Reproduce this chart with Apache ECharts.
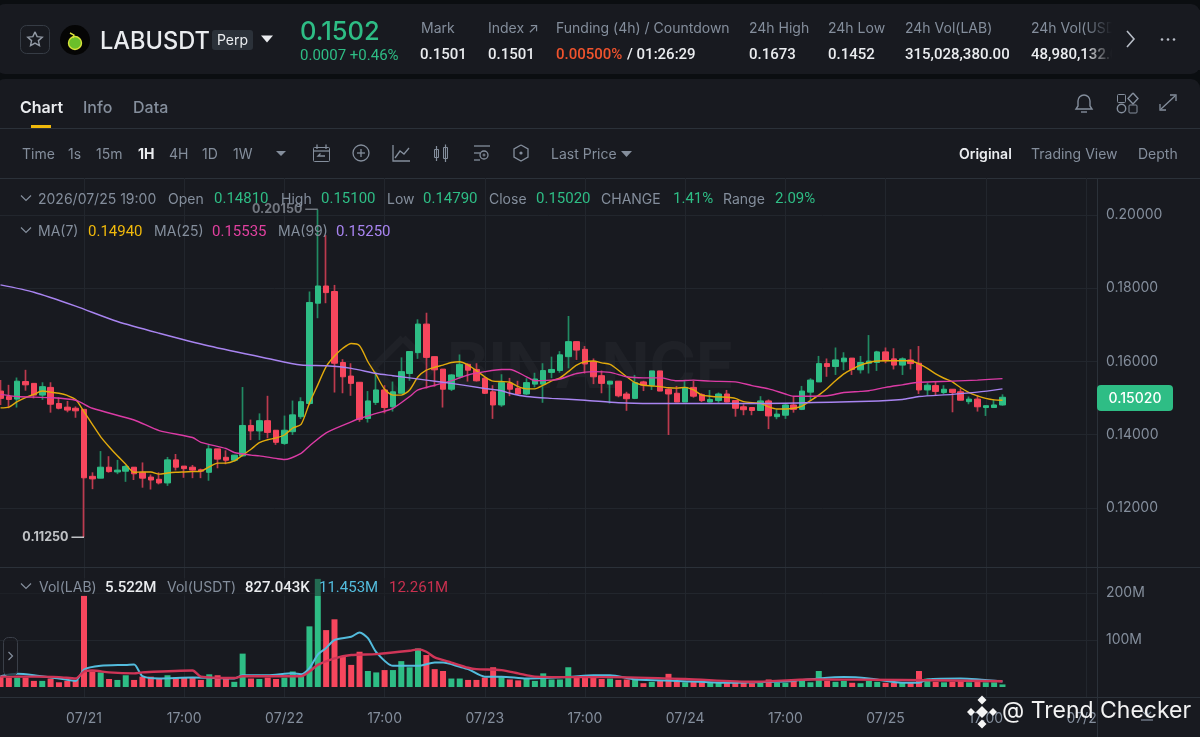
<!DOCTYPE html>
<html><head><meta charset="utf-8">
<style>html,body{margin:0;padding:0;background:#0b0e11;overflow:hidden}#c{width:1200px;height:737px}</style>
<script src="https://cdn.jsdelivr.net/npm/echarts@6/dist/echarts.min.js"></script>
</head><body><div id="c"></div>
<script>
const opens=[.1519,.1504,.1497,.1545,.1540,.1508,.1529,.1485,.1475,.1472,
.1469,.1286,.1281,.1311,.1298,.1300,.1311,.1297,.1284,.1278,
.1268,.1331,.1314,.1311,.1304,.1297,.1361,.1338,.1330,.1342,
.1425,.1410,.1438,.1412,.1376,.1408,.1449,.1485,.1759,.1806,
.1791,.1597,.1560,.1543,.1444,.1488,.1522,.1476,.1513,.1567,
.1624,.1702,.1613,.1579,.1524,.1558,.1592,.1578,.1554,.1517,
.1481,.1540,.1526,.1511,.1538,.1538,.1570,.1575,.1613,.1654,
.1633,.1599,.1561,.1538,.1546,.1511,.1499,.1544,.1534,.1574,
.1524,.1513,.1489,.1529,.1509,.1489,.1493,.1511,.1493,.1476,
.1474,.1466,.1492,.1449,.1453,.1481,.1469,.1516,.1544,.1594,
.1586,.1599,.1609,.1577,.1595,.1597,.1626,.1607,.1590,.1604,
.1595,.1522,.1534,.1515,.1524,.1517,.1490,.1497,.1474,.1474,.1481];
const closes=[.1499,.1496,.1546,.1536,.1508,.1531,.1483,.1472,.1467,.1465,
.1282,.1279,.1311,.1299,.1303,.1313,.1293,.1281,.1276,.1268,
.1331,.1311,.1307,.1303,.1300,.1361,.1333,.1330,.1344,.1425,
.1410,.1438,.1406,.1379,.1412,.1454,.1490,.1761,.1806,.1788,
.1595,.1558,.1540,.1442,.1492,.1522,.1474,.1517,.1572,.1627,
.1702,.1611,.1577,.1524,.1563,.1592,.1576,.1547,.1513,.1481,
.1542,.1524,.1511,.1542,.1552,.1575,.1578,.1618,.1654,.1631,
.1593,.1558,.1540,.1546,.1506,.1498,.1542,.1535,.1574,.1519,
.1511,.1489,.1529,.1505,.1493,.1496,.1511,.1489,.1472,.1468,
.1466,.1492,.1451,.1456,.1481,.1469,.1519,.1549,.1594,.1586,
.1604,.1609,.1578,.1597,.1601,.1626,.1602,.1590,.1607,.1594,
.1522,.1535,.1518,.1524,.1515,.1494,.1497,.1476,.1479,.1481,.1502];
const lows=[.1481,.1472,.1474,.1520,.1499,.1495,.1460,.1469,.1461,.1446,
.1120,.1251,.1281,.1296,.1292,.1271,.1276,.1255,.1250,.1264,
.1260,.1302,.1282,.1281,.1281,.1274,.1308,.1319,.1326,.1340,
.1385,.1385,.1390,.1372,.1372,.1399,.1443,.1481,.1718,.1759,
.1515,.1513,.1506,.1435,.1433,.1481,.1458,.1463,.1513,.1547,
.1607,.1526,.1531,.1474,.1519,.1553,.1545,.1545,.1511,.1443,
.1476,.1505,.1508,.1508,.1529,.1487,.1554,.1569,.1581,.1604,
.1567,.1538,.1513,.1485,.1502,.1465,.1497,.1519,.1522,.1519,
.1399,.1489,.1489,.1501,.1489,.1488,.1487,.1488,.1449,.1453,
.1453,.1465,.1415,.1442,.1443,.1460,.1467,.1494,.1544,.1558,
.1563,.1576,.1563,.1567,.1567,.1574,.1595,.1578,.1563,.1578,
.1511,.1506,.1508,.1511,.1461,.1494,.1483,.1463,.1451,.1474,.1479];
const highs=[.1549,.1536,.1556,.1577,.1540,.1543,.1543,.1502,.1492,.1477,
.1469,.1297,.1355,.1341,.1331,.1317,.1311,.1324,.1291,.1297,
.1339,.1347,.1314,.1317,.1307,.1372,.1361,.1357,.1344,.1530,
.1441,.1458,.1506,.1412,.1452,.1493,.1502,.1791,.2015,.1945,
.1809,.1606,.1595,.1543,.1519,.1572,.1535,.1545,.1611,.1627,
.1715,.1733,.1613,.1579,.1565,.1619,.1595,.1595,.1558,.1535,
.1565,.1555,.1547,.1554,.1569,.1595,.1613,.1628,.1724,.1654,
.1642,.1608,.1575,.1547,.1546,.1517,.1563,.1547,.1574,.1574,
.1526,.1533,.1546,.1547,.1513,.1522,.1515,.1522,.1493,.1483,
.1474,.1505,.1496,.1470,.1484,.1505,.1533,.1554,.1615,.1608,
.1638,.1625,.1609,.1615,.1672,.1629,.1638,.1636,.1611,.1633,
.1642,.1542,.1545,.1535,.1524,.1526,.1504,.1508,.1479,.1496,.1510];
const volumes=[22,20,20,20,13,13,18,10,13,15,
194,33,31,17,15,25,15,22,22,17,
25,20,20,20,15,27,25,18,11,71,
18,17,20,17,20,33,23,129,230,121,
144,64,47,75,34,31,36,36,55,42,
82,68,38,34,18,18,15,15,20,42,
21,16,14,18,13,29,16,16,42,21,
20,21,17,18,15,16,18,8,11,13,
28,13,10,11,10,10,10,10,13,9,
8,9,16,9,9,15,17,10,34,13,
11,13,9,8,13,11,9,9,9,9,
34,18,11,10,11,13,10,13,10,10,5.5];
const ma7=[.1473,.1475,.1490,.1501,.1510,.1519,.1516,.1513,.1507,.1496,
.1463,.1428,.1394,.1367,.1342,.1319,.1297,.1298,.1298,.1292,
.1295,.1297,.1298,.1299,.1300,.1312,.1322,.1322,.1328,.1344,
.1360,.1378,.1386,.1391,.1399,.1418,.1428,.1486,.1536,.1586,
.1615,.1636,.1649,.1643,.1599,.1563,.1524,.1508,.1508,.1522,
.1558,.1576,.1584,.1590,.1597,.1599,.1590,.1575,.1558,.1546,
.1545,.1543,.1531,.1525,.1525,.1535,.1547,.1555,.1572,.1590,
.1599,.1601,.1596,.1592,.1576,.1558,.1542,.1535,.1533,.1531,
.1528,.1527,.1529,.1522,.1508,.1505,.1503,.1502,.1499,.1490,
.1487,.1486,.1476,.1470,.1470,.1472,.1478,.1493,.1508,.1526,
.1547,.1566,.1579,.1590,.1597,.1601,.1602,.1602,.1602,.1602,
.1593,.1581,.1566,.1554,.1544,.1528,.1515,.1506,.1499,.1495,.1494];
const ma25Idx=[0,2,6,9,11,16,19,23,24,27,28,30,31,33,34,36,37,39,42,43,45,47,49,50,52,54,56,58,60,61,63,64,66,67,69,71,73,75,77,79,81,83,85,88,90,92,94,95,97,99,101,103,104,106,108,110,114,117,120];
const ma25Val=[.1510,.1504,.1501,.1494,.1472,.1440,.1411,.1392,.1379,.1362,.1351,.1344,.1342,.1335,.1332,.1349,.1369,.1405,.1435,.1444,.1458,.1472,.1504,.1522,.1535,.1547,.1563,.1572,.1578,.1578,.1558,.1547,.1549,.1552,.1567,.1572,.1570,.1558,.1555,.1555,.1547,.1549,.1546,.1544,.1534,.1525,.1511,.1505,.1505,.1506,.1515,.1518,.1520,.1529,.1536,.1543,.1546,.1549,.1553];
const ma99Idx=[0,4,9,14,19,25,32,36,39,42,45,47,51,54,58,60,61,63,66,70,74,78,84,90,104,108,110,114,117,120];
const ma99Val=[.1809,.1789,.1751,.1709,.1677,.1642,.1608,.1590,.1588,.1581,.1567,.1561,.1549,.1540,.1526,.1520,.1513,.1504,.1499,.1494,.1487,.1485,.1485,.1485,.1491,.1496,.1504,.1510,.1516,.1525];
const volBlueIdx=[0,2,4,7,9,10,12,15,16,17,19,23,28,29,32,35,36,37,38,39,40,42,43,44,45,47,50,52,53,55,56,58,60,63,68,71,73,76,81,87,92,95,98,101,104,108,110,111,115,120];
const volBlueVal=[23,28,25,18,13,37,45,47,48,23,18,20,18,25,25,29,27,40,69,83,100,107,116,104,74,45,45,52,52,43,38,22,22,18,21,25,25,16,13,9,11,13,18,21,18,9,9,16,18,11.5];
const volRedIdx=[0,4,7,9,10,11,13,16,17,23,24,28,29,36,37,38,40,42,45,49,50,51,52,54,56,57,60,62,64,68,73,82,90,97,108,120];
const volRedVal=[22,22,21,18,33,35,31,29,31,35,22,19,23,23,33,47,61,68,70,77,80,75,63,52,41,38,36,29,22,21,21,17,11,16,15,12.3];
const extremeIdx=[38,10];
const extremeVal=[0.2015,0.1120];
const tickIdx=[10,22,34,46,58,70,82,94,106,118,130];
const tickLabels=['07/21','17:00','07/22','17:00','07/23','17:00','07/24','17:00','07/25','17:00','07/26'];
const priceTicks=[0.12,0.14,0.16,0.18,0.20];
const volTicks=[100,200];

const GREEN='#2EBD85',RED='#F6465D',GREEN_WICK='#218A63',RED_WICK='#BC3A4E',GRID='#22262D',LINE='#2B3139',GREY='#848E9C',WHITE='#EAECEF';
const FONT='Inter, Roboto, sans-serif',NUM='Roboto, sans-serif';
const zip=(a,b)=>a.map((v,i)=>[v,b[i]]);
const idx=opens.map((_,i)=>i);

const g=[];
function R(x,y,w,h,fill,r,z,stroke){g.push({type:'rect',silent:true,z:z==null?-10:z,shape:{x,y,width:w,height:h,r:r||0},style:{fill:fill||'none',stroke:stroke||null,lineWidth:1}});}
function T(x,y,text,color,size,weight,z,align){g.push({type:'text',silent:true,z:z==null?60:z,x,y:y+1,style:{text,fill:color,font:(weight||400)+' '+(size||14)+'px '+FONT,verticalAlign:'middle',align:align||'left'}});}
function N(x,y,text,color,weight){g.push({type:'text',silent:true,z:60,x,y:y+1,style:{text,fill:color,font:(weight||400)+' 15px '+NUM,verticalAlign:'middle',align:'left'}});}
function L(pts,color,w,z,fill){g.push({type:fill?'polygon':'polyline',silent:true,z:z==null?60:z,shape:{points:pts},style:fill?{fill:color}:{fill:null,stroke:color,lineWidth:w||1.5}});}
function C(cx,cy,r,stroke,w,fill,z){g.push({type:'circle',silent:true,z:z==null?60:z,shape:{cx,cy,r},style:{fill:fill||null,stroke:stroke||null,lineWidth:w||1.5}});}

// panels
R(0,0,1200,737,'#0B0E11',0,-20);
R(-4,4,1204,70,'#181A20',9,-10);
R(-4,79,1204,670,'#181A20',9,-10);
R(0,128,1200,1,LINE,0,-5);R(0,178,1200,1,LINE,0,-5);R(0,567,1200,1,LINE,0,20);R(0,697,1200,1,LINE,0,20);
R(1097,178,1,559,LINE,0,20);

// header
R(20.5,25.5,29,28,null,6,60,'#363C45');
(function(){const p=[];for(let i=0;i<10;i++){const a=-Math.PI/2+i*Math.PI/5,r=i%2?3.6:7.6;p.push([35+r*Math.cos(a),39.5+r*Math.sin(a)]);}L(p.concat([p[0]]),'#929AA5',1.4);})();
C(75,40,15,null,1,'#050505');
C(75,43,6.5,'#D8E23A',1.4,'#6BBF2A');L([[70,33],[74,35],[73,38]],'#D8E23A',1.4);
T(100,41,'LABUSDT',WHITE,23.6,500);
R(212,30,41,20,'#2B3139',3,50);T(217,39.5,'Perp',WHITE,14,400);
L([[261,35.5],[273,35.5],[267,42.5]],WHITE,1,60,true);
T(300,31.5,'0.1502',GREEN,25.5,500);N(300,55.5,'0.0007 +0.46%',GREEN);
const hdr=[[421,'Mark',420,'0.1501'],[488,'Index ↗',488,'0.1501'],[749,'24h High',749,'0.1673'],[828,'24h Low',828,'0.1452'],[905,'24h Vol(LAB)',905,'315,028,380.00'],[1031,'24h Vol(USDT)',1031,'48,980,132.00']];
hdr.forEach(h=>{T(h[0],28,h[1],GREY,14);N(h[2],54.5,h[3],WHITE,500);});
T(556,28,'Funding (4h) / Countdown',GREY,14);N(556,54.5,'0.00500%','#F0532D',500);N(627,54.5,'/ 01:26:29',WHITE,500);
g.push({type:'rect',silent:true,z:70,shape:{x:1085,y:10,width:30,height:60},style:{fill:new echarts.graphic.LinearGradient(0,0,1,0,[{offset:0,color:'rgba(24,26,32,0)'},{offset:.9,color:'#181A20'}])}});
R(1115,10,85,60,'#181A20',0,70);
L([[1127,31],[1134,39],[1127,47]],'#B7BDC6',1.6,75);
[1162,1168,1174].forEach(x=>C(x,39.5,1.3,null,1,'#B7BDC6',75));

// tabs
T(20,107,'Chart',WHITE,16,600);T(83,107,'Info',GREY,16,500);T(133,107,'Data',GREY,16,500);
R(31,125,20,3,'#F0B90B',0,10);
g.push({type:'arc',silent:true,z:60,shape:{cx:1084,cy:101,r:6,startAngle:Math.PI,endAngle:0,clockwise:true},style:{fill:null,stroke:GREY,lineWidth:1.4}});
L([[1078,101],[1078,106],[1076,109],[1092,109],[1090,106],[1090,101]],GREY,1.4);L([[1081,112],[1087,112]],GREY,1.4);
R(1117.5,94.5,8,8,null,1,60,GREY);L([[1133,93],[1138,98.5],[1133,104],[1128,98.5],[1133,93]],GREY,1.4);
C(1121.5,108.5,4.2,GREY,1.4);R(1129,105,8,8,null,1,60,GREY);
L([[1161,109],[1175,96]],GREY,1.3);L([[1170,95],[1176,95],[1176,101]],GREY,1.3);L([[1160,104],[1160,110],[1166,110]],GREY,1.3);

// toolbar
[[22,'Time'],[68,'1s'],[96,'15m'],[169,'4H'],[202,'1D'],[233,'1W'],[551,'Last Price'],[1031,'Trading View'],[1138,'Depth']].forEach(a=>T(a[0],153.5,a[1],GREY,14));
T(138,153.5,'1H',WHITE,14,700);T(959,153.5,'Original',WHITE,14,600);
L([[276,151],[286,151],[281,156]],GREY,1,60,true);L([[621,151],[632,151],[626.5,157]],GREY,1,60,true);
R(313.5,147.5,16,14,null,1,60,GREY);L([[317,144.5],[317,149]],GREY,1.3);L([[326,144.5],[326,149]],GREY,1.3);L([[314,151],[329,151]],GREY,1.3);L([[325,156],[318,156],[320.5,153.5]],GREY,1.3);
C(361,153,8,GREY,1.3);L([[357,153],[365,153]],GREY,1.3);L([[361,149],[361,157]],GREY,1.3);
L([[393,145],[393,161],[410,161]],GREY,1.3);L([[395,158],[400,151],[404,154],[409,148]],GREY,1.3);
R(434.5,149.5,4,8,null,0,60,GREY);R(443.5,147.5,4,11,null,0,60,GREY);L([[436.5,146],[436.5,161]],GREY,1.2);L([[445.5,144.5],[445.5,162]],GREY,1.2);
L([[474,146],[490,146]],GREY,1.3);L([[474,153],[480,153]],GREY,1.3);L([[474,160],[480,160]],GREY,1.3);C(484,155,4,GREY,1.3);C(484,155,1,GREY,1);
L([[521,145],[528,149],[528,157],[521,161],[514,157],[514,149],[521,145]],GREY,1.3);C(521,153,1.6,null,1,GREY);

// info rows
function chev(x,y){L([[x-5,y-2.5],[x,y+2.5],[x+5,y-2.5]],GREY,1.2);}
chev(26,198);chev(26,230);chev(26,586);
T(38,198.5,'2026/07/25 19:00',GREY,14);
[[168,'Open'],[281,'High'],[387,'Low'],[489,'Close'],[601,'CHANGE'],[723,'Range']].forEach(a=>T(a[0],198.5,a[1],GREY,14));
[[214,'0.14810'],[321,'0.15100'],[423,'0.14790'],[536,'0.15020'],[673,'1.41%'],[775,'2.09%']].forEach(a=>N(a[0],198.5,a[1],GREEN));
T(38,231,'MA(7)',GREY,14);N(88,231,'0.14940','#F0B90B');T(154,231,'MA(25)',GREY,14);N(212,231,'0.15535','#E0409F');T(278,231,'MA(99)',GREY,14);N(336,231,'0.15250','#A884F0');
R(0,578,480,18,'rgba(24,26,32,.5)',0,5);
T(39,587,'Vol(LAB)',GREY,14);N(105,587,'5.522M',WHITE,500);T(167,587,'Vol(USDT)',GREY,14);N(245,587,'827.043K',WHITE,500);N(319,587,'11.453M','#53BCDD');N(389,587,'12.261M','#C9304F');
R(3.5,637.5,14,38,'rgba(24,26,32,.7)',5,60,'#3A3F48');L([[8.5,652],[12.5,656],[8.5,660]],GREY,1.2,61);
R(1097,385,76,26,GREEN,4,60);T(1135,397.5,'0.15020','#FFFFFF',14,500,61,'center');
R(1098,698,102,39,'#181A20',0,50);
L([[1147,707],[1147,716]],GREY,1.2,60);L([[1143,712],[1147,716],[1151,712]],GREY,1.2,60);L([[1141,720],[1153,720]],GREY,1.2,60);
function dia(cx,cy,r,col,z,w){L([[cx,cy-r],[cx+r,cy],[cx,cy+r],[cx-r,cy],[cx,cy-r]],col,w,z);}
const WM='rgba(255,255,255,0.03)';
dia(403,368,30,WM,-1,7);
g.push({type:'text',silent:true,z:-1,x:447,y:369,style:{text:'BINANCE',fill:WM,font:'700 63px '+FONT,verticalAlign:'middle'}});
[[982,712,6],[982,700,4.5],[982,724,4.5],[971,712,4],[993,712,4]].forEach(d=>L([[d[0],d[1]-d[2]],[d[0]+d[2],d[1]],[d[0],d[1]+d[2]],[d[0]-d[2],d[1]]],'#F5F5F5',1,80,true));
g.push({type:'text',silent:true,z:80,x:1002,y:711,style:{text:'@ Trend Checker',fill:'#F2F2F2',font:'400 23px '+FONT,verticalAlign:'middle',shadowBlur:2,shadowColor:'rgba(0,0,0,.6)'}});

const xBase=(gi,show)=>({type:'value',gridIndex:gi,min:-0.06,max:131.32,axisLine:{show:false},axisTick:{show:false,customValues:tickIdx},
  splitLine:{show:true,lineStyle:{color:GRID,width:1}},
  axisLabel:{show:show,customValues:tickIdx,color:GREY,fontSize:14,fontFamily:FONT,margin:15,hideOverlap:false,
    formatter:v=>tickLabels[tickIdx.indexOf(Math.round(v))]||''}});
const line=(name,x,y,data,color,w)=>({type:'line',name,xAxisIndex:x,yAxisIndex:y,data,showSymbol:false,symbol:'none',smooth:0.25,lineStyle:{color,width:w},silent:true,z:3,animation:false});
const extremeLabel=(text,color)=>({show:true,position:'left',distance:0,formatter:text,color,fontSize:12.5,fontWeight:700,fontFamily:FONT});

const chart=echarts.init(document.getElementById('c'),null,{renderer:'canvas'});
chart.setOption({
  animation:false,backgroundColor:'transparent',tooltip:{show:false},
  grid:[{left:0,top:178,width:1097,height:389},{left:0,top:567,width:1097,height:130}],
  xAxis:[xBase(0,false),xBase(1,true)],
  yAxis:[
    {type:'value',gridIndex:0,position:'right',min:0.10383,max:0.21011,axisLine:{show:false},axisTick:{show:false,customValues:priceTicks},
     splitLine:{show:true,lineStyle:{color:GRID}},
     axisLabel:{customValues:priceTicks,color:GREY,fontSize:14,fontFamily:FONT,margin:9,formatter:v=>v.toFixed(5)}},
    {type:'value',gridIndex:1,position:'right',min:-21.3,max:255.3,axisLine:{show:false},axisTick:{show:false,customValues:volTicks},
     splitLine:{show:true,lineStyle:{color:GRID}},
     axisLabel:{customValues:volTicks,color:GREY,fontSize:14,fontFamily:FONT,margin:9,formatter:v=>v+'M'}}
  ],
  graphic:{elements:g},
  series:[
    {type:'candlestick',name:'Wicks',xAxisIndex:0,yAxisIndex:0,barWidth:1,silent:true,z:2,
     itemStyle:{color:GREEN_WICK,color0:RED_WICK,borderColor:GREEN_WICK,borderColor0:RED_WICK,borderWidth:1.7},
     data:idx.map(i=>[i,opens[i],closes[i],lows[i],highs[i]])},
    {type:'candlestick',name:'Bodies',xAxisIndex:0,yAxisIndex:0,barWidth:6,silent:true,z:2.5,
     itemStyle:{color:GREEN,color0:RED,borderColor:GREEN,borderColor0:RED,borderWidth:1},
     data:idx.map(i=>[i,opens[i],closes[i],Math.min(opens[i],closes[i]),Math.max(opens[i],closes[i])])},
    {type:'scatter',name:'Extremes',xAxisIndex:0,yAxisIndex:0,symbolSize:0,silent:true,z:4,
     data:[
       {value:[extremeIdx[0],extremeVal[0]],label:extremeLabel('0.20150 —','#8A8F98')},
       {value:[extremeIdx[1],extremeVal[1]],label:extremeLabel('0.11250 —',WHITE)}
     ]},
    line('MA7',0,0,zip(idx,ma7),'#E2AA0C',1.4),
    line('MA25',0,0,zip(ma25Idx,ma25Val),'#DB3BA5',1.4),
    line('MA99',0,0,zip(ma99Idx,ma99Val),'#A884F0',1.4),
    {type:'bar',name:'Vol',xAxisIndex:1,yAxisIndex:1,barWidth:6,silent:true,z:2,data:zip(idx,volumes),
     itemStyle:{color:p=>closes[p.dataIndex]>=opens[p.dataIndex]?GREEN:RED}},
    line('VolMA1',1,1,zip(volBlueIdx,volBlueVal),'#53BCDD',2),
    line('VolMA2',1,1,zip(volRedIdx,volRedVal),'#CF3557',2.4)
  ]
});
</script></body></html>
